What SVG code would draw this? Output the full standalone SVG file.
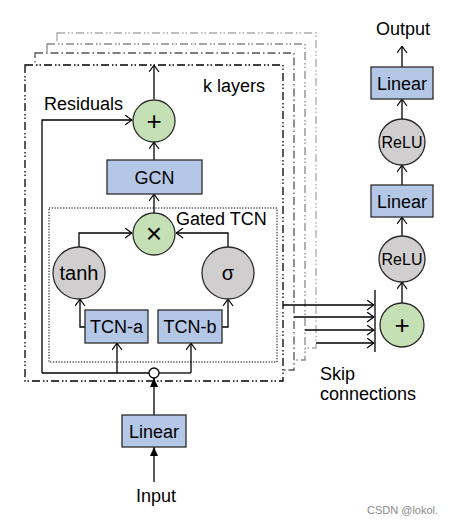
<svg xmlns="http://www.w3.org/2000/svg" width="453" height="525" viewBox="0 0 453 525">
<style>
text{font-family:"Liberation Sans",Arial,sans-serif;fill:#000}
.lbl{font-size:18px}
.ctr{text-anchor:middle}
.box{fill:#b4c7e7;stroke:#2b2b2b;stroke-width:1.3}
.grn{fill:#c5e0b4;stroke:#2b2b2b;stroke-width:1.3}
.gry{fill:#d0cece;stroke:#2b2b2b;stroke-width:1.3}
.ln{fill:none;stroke:#000;stroke-width:1.3}
.arr{marker-end:url(#open)}
.frame{fill:#fff;stroke-width:1.3}
</style>
<defs>
<marker id="open" markerUnits="userSpaceOnUse" markerWidth="8" markerHeight="11" viewBox="0 0 8 11" refX="7.5" refY="5.5" orient="auto">
<path d="M0.5,0.5 L7.3,5.5 L0.5,10.5" fill="none" stroke="#000" stroke-width="1.2"/>
</marker>
<marker id="fill" markerUnits="userSpaceOnUse" markerWidth="9" markerHeight="8" viewBox="0 0 9 8" refX="9" refY="4" orient="auto">
<path d="M0,0 L9,4 L0,8 z" fill="#000"/>
</marker>
</defs>

<g id="frames">
<rect class="frame" x="57" y="33" width="259" height="315" stroke="#aaa" stroke-dasharray="8 3 1.5 2 1.5 3"/>
<rect class="frame" x="47" y="44" width="258" height="316" stroke="#888" stroke-dasharray="8 3 1.5 2 1.5 3"/>
<rect class="frame" x="35" y="53" width="259" height="317" stroke="#555" stroke-dasharray="8 3 1.5 3"/>
<rect class="frame" x="25" y="65" width="258" height="316" stroke="#000" stroke-dasharray="8 3 1.5 2 1.5 3"/>
</g>

<g id="gated-box">
<rect x="49" y="208" width="228" height="154" fill="none" stroke="#000" stroke-width="1" stroke-dasharray="1.3 1.5"/>
<text class="lbl" x="176" y="225">Gated TCN</text>
</g>

<g id="labels">
<text class="lbl" x="203" y="92">k layers</text>
<text class="lbl" x="44" y="110">Residuals</text>
<text class="lbl" x="320" y="380">Skip</text>
<text class="lbl" x="320" y="400">connections</text>
<text class="lbl ctr" x="403" y="35">Output</text>
<text class="lbl ctr" x="156" y="502">Input</text>
<text x="367" y="514" font-size="11" style="fill:#8a8a8a">CSDN @lokol.</text>
</g>

<g id="connectors">
<!-- left module -->
<line class="ln arr" x1="154" y1="99" x2="154" y2="65"/>
<polyline class="ln arr" points="42,373 42,120 132,120"/>
<line class="ln arr" x1="154" y1="160" x2="154" y2="142"/>
<line class="ln arr" x1="154" y1="213" x2="154" y2="194"/>
<polyline class="ln arr" points="79,247 79,233 132,233"/>
<polyline class="ln arr" points="228,247 228,233 176,233"/>
<polyline class="ln arr" points="85,327 80,327 80,299"/>
<polyline class="ln arr" points="222,327 228,327 228,299"/>
<line class="ln" x1="42" y1="373" x2="149" y2="373"/>
<polyline class="ln" points="159,373 191,373"/>
<line class="ln arr" x1="117" y1="373" x2="117" y2="343"/>
<line class="ln arr" x1="191" y1="373" x2="191" y2="343"/>
<line class="ln" x1="154" y1="415" x2="154" y2="378" marker-end="url(#fill)"/>
<line class="ln" x1="154" y1="482" x2="154" y2="447" marker-end="url(#fill)"/>
<!-- skip connections -->
<line class="ln arr" x1="283" y1="305" x2="374" y2="305"/>
<line class="ln arr" x1="294" y1="317" x2="374" y2="317"/>
<line class="ln arr" x1="305" y1="330" x2="374" y2="330"/>
<line class="ln arr" x1="316" y1="343" x2="374" y2="343"/>
<line class="ln" x1="375" y1="290" x2="375" y2="352"/>
<!-- right column -->
<line class="ln arr" x1="402" y1="303" x2="402" y2="282"/>
<line class="ln arr" x1="402" y1="236" x2="402" y2="217"/>
<line class="ln arr" x1="402" y1="185" x2="402" y2="165"/>
<line class="ln arr" x1="402" y1="119" x2="402" y2="99"/>
<line class="ln arr" x1="402" y1="67" x2="402" y2="46"/>
</g>

<g id="residual-junction">
<circle cx="154" cy="373" r="5" fill="#fff" stroke="#000" stroke-width="1.3"/>
</g>

<g id="add-top">
<circle class="grn" cx="154" cy="121" r="21"/>
<text class="ctr" x="154" y="130" font-size="26">+</text>
</g>
<g id="gcn">
<rect class="box" x="107" y="160" width="95" height="34"/>
<text class="lbl ctr" x="154.5" y="183.5">GCN</text>
</g>
<g id="mul">
<circle class="grn" cx="154" cy="234" r="21"/>
<text class="ctr" x="154" y="243" font-size="28">×</text>
</g>
<g id="tanh">
<circle class="gry" cx="79" cy="273" r="26"/>
<text class="ctr" x="79" y="280" font-size="20">tanh</text>
</g>
<g id="sigma">
<circle class="gry" cx="228" cy="273" r="26"/>
<text class="ctr" x="228" y="280" font-size="20">σ</text>
</g>
<g id="tcn-a">
<rect class="box" x="85" y="310" width="63" height="33"/>
<text class="lbl ctr" x="116.5" y="333">TCN-a</text>
</g>
<g id="tcn-b">
<rect class="box" x="158" y="310" width="64" height="33"/>
<text class="lbl ctr" x="190" y="333">TCN-b</text>
</g>
<g id="linear-in">
<rect class="box" x="122" y="415" width="64" height="32"/>
<text class="lbl ctr" x="154" y="437.5">Linear</text>
</g>

<g id="add-skip">
<circle class="grn" cx="402" cy="325" r="22"/>
<text class="ctr" x="402" y="334" font-size="26">+</text>
</g>
<g id="relu-1">
<circle class="gry" cx="402" cy="259" r="23"/>
<text class="ctr" x="402" y="265" font-size="16">ReLU</text>
</g>
<g id="linear-1">
<rect class="box" x="371" y="185" width="62" height="32"/>
<text class="lbl ctr" x="402" y="207.5">Linear</text>
</g>
<g id="relu-2">
<circle class="gry" cx="402" cy="142" r="23"/>
<text class="ctr" x="402" y="148" font-size="16">ReLU</text>
</g>
<g id="linear-2">
<rect class="box" x="371" y="67" width="62" height="32"/>
<text class="lbl ctr" x="402" y="89.5">Linear</text>
</g>
</svg>
